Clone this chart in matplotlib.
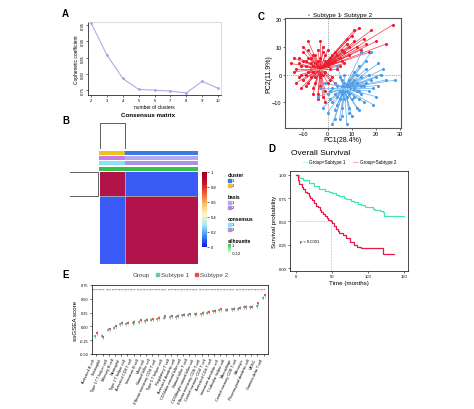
import numpy as np
import matplotlib
matplotlib.use("Agg")
import matplotlib.pyplot as plt
from matplotlib.colors import ListedColormap, LinearSegmentedColormap

W, H = 474, 410
fig = plt.figure(figsize=(W / 100, H / 100), dpi=100)
plt.rcParams['font.family'] = ['Liberation Sans', 'DejaVu Sans']

def ax_px(x0, y0, x1, y1):
    return fig.add_axes([x0 / W, 1 - y1 / H, (x1 - x0) / W, (y1 - y0) / H])

def small(ax, fs=3.5):
    ax.tick_params(labelsize=fs, length=1.5, width=0.4, pad=1)
    for s in ax.spines.values():
        s.set_linewidth(0.5)

# ---- data ----
n_clusters = [2, 3, 4, 5, 6, 7, 8, 9, 10]
cophenetic = [0.956, 0.858, 0.786, 0.752, 0.750, 0.747, 0.741, 0.777, 0.756]

cluster_sizes = [26, 74]

pc_sub1_center = (-3, 2)
pc_sub1 = [(-15, 4), (-14, 1), (-12, 6), (-12, -1), (-11, 3), (-10, 8), (-10, -2), (-9, 5), (-9, 0),
           (-8, 9), (-8, -3), (-7, 6), (-7, 2), (-6, -5), (-6, 7), (-5, 4), (-5, -1), (-4, 9), (-4, -7),
           (-3, 6), (-3, -4), (-2, 8), (-2, 0), (-1, -6), (-1, 5), (0, 3), (0, 9), (1, -2), (1, 6), (2, 4),
           (3, 8), (4, 2), (5, 6), (6, 9), (8, 11), (10, 14), (12, 10), (13, 17), (15, 13), (18, 16),
           (20, 12), (24, 11), (27, 18), (9, 7), (7, 4), (-13, -3), (-11, -5), (-2, 10), (3, -3), (-8, 12),
           (-14, 6), (-13, 2), (-12, 4), (-11, 0), (-10, 5), (-9, 3), (-9, -4), (-8, 1), (-8, 6), (-7, -1),
           (-7, 4), (-6, 1), (-6, 3), (-5, 7), (-5, -3), (-4, 2), (-4, 5), (-3, -1), (-3, 0), (-2, 3),
           (-2, -8), (-1, 1), (-1, 7), (0, -3), (0, 5), (1, 2), (2, 7), (2, -1), (3, 5), (4, 7),
           (5, 3), (6, 5), (7, 8), (9, 10), (11, 12), (14, 9), (16, 11), (11, 16), (8, 13), (17, 8),
           (-4, -9), (-6, -7), (-1, -10), (-10, 10), (-3, 12)]
pc_sub2_center = (7, -5)
pc_sub2 = [(-4, -8), (-2, -12), (0, -14), (1, -6), (2, -10), (3, -3), (3, -16), (4, -8), (5, -1), (5, -16),
           (6, -12), (6, -4), (7, -9), (7, 0), (8, -18), (8, -6), (9, -2), (9, -12), (10, -15), (10, -5),
           (11, 1), (11, -8), (12, -3), (13, -6), (13, 3), (14, -1), (15, -10), (15, -4), (16, 2), (17, -6),
           (18, 8), (18, -2), (20, -8), (21, 4), (21, -4), (22, 0), (24, -2), (28, -2), (14, 8), (-1, -3),
           (2, -18), (12, -12), (19, -11), (4, 3), (16, 5),
           (2, -5), (3, -7), (4, -4), (4, -11), (5, -6), (5, -9), (6, -2), (6, -7), (7, -3), (7, -6),
           (8, -4), (8, -8), (9, -5), (9, -7), (10, -3), (10, -9), (11, -5), (11, -2), (12, -6), (12, 0),
           (13, -9), (14, -4), (14, -7), (16, -3), (17, 0), (19, -5), (20, -1), (23, 2), (1, -9), (0, -7),
           (-3, -5), (6, -15), (9, -14), (3, -13), (13, -13)]

os1_t = [0, 4, 10, 18, 25, 32, 40, 46, 50, 56, 60, 66, 70, 76, 80, 86, 90, 96, 100, 106, 110, 116, 120, 122, 150]
os1_s = [1.0, 0.97, 0.94, 0.91, 0.88, 0.85, 0.83, 0.81, 0.80, 0.78, 0.77, 0.75, 0.74, 0.72, 0.71, 0.69, 0.68,
         0.66, 0.65, 0.63, 0.62, 0.61, 0.60, 0.56, 0.56]
os2_t = [0, 3, 5, 8, 10, 13, 15, 18, 20, 23, 25, 28, 30, 33, 35, 38, 40, 43, 45, 48, 50, 53, 55, 58, 60,
         65, 70, 75, 80, 85, 90, 120, 121, 135]
os2_s = [1.0, 0.94, 0.90, 0.87, 0.85, 0.82, 0.80, 0.77, 0.75, 0.73, 0.70, 0.67, 0.65, 0.62, 0.60, 0.58,
         0.56, 0.54, 0.52, 0.50, 0.48, 0.45, 0.42, 0.40, 0.38, 0.35, 0.32, 0.28, 0.25, 0.23, 0.22, 0.22,
         0.15, 0.15]

cells = ["Activated B cell", "Eosinophil", "Type 17 T helper cell", "Memory B cell", "Neutrophil",
         "Type 2 T helper cell", "Activated CD8 T cell", "Immature B cell", "Mast cell",
         "Natural killer cell", "Effector memeory CD4 T cell", "Type 1 T helper cell",
         "Regulatory T cell", "Activated dendritic cell", "CD56dim natural killer cell",
         "Natural killer T cell", "CD56bright natural killer cell", "Effector memeory CD8 T cell",
         "Central memory CD4 T cell", "Activated CD4 T cell", "Immature dendritic cell",
         "T follicular helper cell", "Macrophage", "Central memory CD8 T cell", "Monocyte",
         "Plasmacytoid dendritic cell", "MDSC", "Gamma delta T cell"]
score_sub1 = [-0.18, -0.17, -0.06, -0.02, 0.04, 0.05, 0.06, 0.08, 0.10, 0.12, 0.13, 0.16, 0.17, 0.17,
              0.20, 0.21, 0.22, 0.22, 0.25, 0.27, 0.29, 0.30, 0.31, 0.32, 0.35, 0.35, 0.37, 0.52]
score_sub2 = [-0.12, -0.20, -0.05, 0.00, 0.06, 0.07, 0.08, 0.11, 0.12, 0.13, 0.15, 0.18, 0.18, 0.19,
              0.21, 0.22, 0.23, 0.24, 0.26, 0.28, 0.31, 0.30, 0.32, 0.34, 0.35, 0.36, 0.42, 0.56]

# ---- A ----
ax = ax_px(88, 23, 221, 96)
ax.plot(n_clusters, cophenetic, color="#b49ae6", lw=0.7, marker="o", ms=1)
ax.set_xticks(n_clusters)
ax.set_yticks([0.75, 0.80, 0.85, 0.90, 0.95])
ax.set_ylim(0.735, 0.96)
ax.set_xlim(1.8, 10.2)
ax.set_xlabel("number of clusters", fontsize=3.5, labelpad=1)
ax.set_ylabel("Cophenetic coefficient", fontsize=3.5, labelpad=1)
for t in ax.get_yticklabels():
    t.set_rotation(90); t.set_va("center")
ax.spines["top"].set_color("#cccccc"); ax.spines["right"].set_color("#cccccc")
small(ax, 3)
fig.text(62 / W, 1 - 17 / H, "A", fontsize=7, weight="bold")

# ---- B ----
n = sum(cluster_sizes)
lab = np.repeat(np.arange(len(cluster_sizes)), cluster_sizes)
mat = (lab[:, None] == lab[None, :]).astype(float)
cm = LinearSegmentedColormap.from_list("cc", ["#0a1fe6", "#3d8cf0", "#a8e8f5", "#fff8c0",
                                              "#fbbd60", "#f05a30", "#c0102a", "#990020"])
hx0, hx1, hy0, hy1 = 100, 197, 173, 265
ax = ax_px(hx0, hy0, hx1, hy1)
ax.imshow(mat, cmap=ListedColormap(["#3a5af5", "#b2134b"]), aspect="auto", interpolation="nearest")
ax.axhline(cluster_sizes[0] - 0.5, color="#b0b0b0", lw=0.6)
ax.axvline(cluster_sizes[0] - 0.5, color="#b0b0b0", lw=0.6)
ax.set_xticks([]); ax.set_yticks([])
for s in ax.spines.values():
    s.set_visible(False)
ann_rows = [["#f2c21b", "#3a7be0"], ["#c77de8", "#b2aaf2"], ["#8ee2f2", "#b08fe8"], ["#34c24a", "#34c24a"]]
for i, cols in enumerate(ann_rows):
    a = ax_px(hx0 - 1, 152 + i * 5.2, hx1, 152 + i * 5.2 + 4)
    a.imshow(lab[None, :], cmap=ListedColormap(cols), aspect="auto", vmin=0, vmax=1)
    a.axis("off")
# dendrograms
d = ax_px(hx0, 123, hx1, 150)
d.plot([0, 0, cluster_sizes[0], cluster_sizes[0]], [0, 1, 1, 0], color="#444444", lw=0.6)
d.set_xlim(0, n); d.set_ylim(0, 1.05); d.axis("off")
d = ax_px(70, hy0, hx0 - 1, hy1)
d.plot([0, 1, 1, 0], [0, 0, cluster_sizes[0], cluster_sizes[0]], color="#444444", lw=0.6)
d.set_ylim(n, 0); d.set_xlim(0, 1.05); d.axis("off")
fig.text(148 / W, 1 - 117 / H, "Consensus matrix", fontsize=4.5, weight="bold", ha="center")
fig.text(62 / W, 1 - 124 / H, "B", fontsize=7, weight="bold")
cax = ax_px(202, 173, 207, 248)
cax.imshow(np.linspace(1, 0, 100)[:, None], cmap=cm, aspect="auto", extent=[0, 1, 0, 1])
cax.set_xticks([]); cax.yaxis.tick_right()
cax.set_yticks([0, 0.2, 0.4, 0.6, 0.8, 1]); cax.set_yticklabels(["0", "0.2", "0.4", "0.6", "0.8", "1"])
small(cax, 3)
for s in cax.spines.values():
    s.set_visible(False)
leg = [("cluster", ["#3a7be0", "#f2c21b"]), ("basis", ["#b2aaf2", "#c77de8"]), ("consensus", ["#8ee2f2", "#b08fe8"])]
y = 176
for name, cols in leg:
    fig.text(228 / W, 1 - y / H, name, fontsize=3.5, weight="bold", va="center")
    for k, c in enumerate(cols):
        yy = y + 5 + k * 5
        fig.patches.append(plt.Rectangle((228 / W, 1 - (yy + 1.5) / H), 3 / W, 3 / H, color=c, transform=fig.transFigure))
        fig.text(232 / W, 1 - yy / H, str(k + 1), fontsize=3, va="center")
    y += 22
fig.text(228 / W, 1 - y / H, "silhouette", fontsize=3.5, weight="bold", va="center")
sx = ax_px(228, y + 3, 231, y + 13)
sx.imshow(np.linspace(1, 0, 50)[:, None], cmap=LinearSegmentedColormap.from_list("g", ["white", "#1fc23a"]), aspect="auto")
sx.axis("off")
fig.text(232 / W, 1 - (y + 4) / H, "1", fontsize=3, va="center")
fig.text(232 / W, 1 - (y + 12) / H, "-0.12", fontsize=3, va="center")

# ---- C ----
ax = ax_px(285, 19, 401, 129)
for pts, cen, col in [(pc_sub1, pc_sub1_center, "#ee1c2e"), (pc_sub2, pc_sub2_center, "#4a9ee8")]:
    for p in pts:
        ax.plot([cen[0], p[0]], [cen[1], p[1]], color=col, lw=0.5, alpha=0.85)
    xs, ys = zip(*pts)
    ax.scatter(xs, ys, s=1.5, color=col, zorder=3)
ax.text(*pc_sub1_center, "Subtype 1", fontsize=3, color="white", ha="center", va="center", zorder=4)
ax.text(*pc_sub2_center, "Subtype 2", fontsize=3, color="white", ha="center", va="center", zorder=4)
ax.axhline(0, color="#555555", lw=0.5, ls=":")
ax.axvline(0, color="#555555", lw=0.5, ls=":")
ax.set_xlim(-17.6, 30.4); ax.set_ylim(-19.4, 20.5)
ax.set_xticks([-10, 0, 10, 20, 30]); ax.set_yticks([-10, 0, 10, 20])
ax.set_xlabel("PC1(28.4%)", fontsize=5, labelpad=0)
ax.set_ylabel("PC2(11.9%)", fontsize=5, labelpad=0)
small(ax, 4)
for s in ax.spines.values():
    s.set_linewidth(0.8); s.set_color("#555555")
fig.text(308 / W, 1 - 15 / H, "•", color="#ee1c2e", fontsize=4, va="center")
fig.text(313 / W, 1 - 15 / H, "Subtype 1", fontsize=4.5, va="center")
fig.text(340 / W, 1 - 15 / H, "•", color="#4a9ee8", fontsize=4, va="center")
fig.text(344 / W, 1 - 15 / H, "Subtype 2", fontsize=4.5, va="center")
fig.text(258 / W, 1 - 20 / H, "C", fontsize=7, weight="bold")

# ---- D ----
ax = ax_px(290, 172, 408, 272)
ax.step(os1_t, os1_s, where="post", color="#3de8b0", lw=0.9)
ax.step(os2_t, os2_s, where="post", color="#e8194a", lw=0.9)
ax.plot([0, 48, 48], [0.5, 0.5, -0.03], color="#777777", lw=0.4, ls=":")
ax.text(6, 0.28, "p < 0.0001", fontsize=3)
ax.set_xlim(-8, 155); ax.set_ylim(-0.03, 1.04)
ax.set_xticks([0, 50, 100, 150]); ax.set_yticks([0, 0.25, 0.5, 0.75, 1.0])
ax.set_yticklabels(["0.00", "0.25", "0.50", "0.75", "1.00"])
ax.set_xlabel("Time (months)", fontsize=4.5, labelpad=1)
ax.set_ylabel("Survival probability", fontsize=4.5, labelpad=1)
small(ax, 3)
fig.text(291 / W, 1 - 155 / H, "Overall Survival", fontsize=6)
fig.text(303 / W, 1 - 163 / H, "—", color="#3de8b0", fontsize=4, va="center")
fig.text(309 / W, 1 - 163 / H, "Group=Subtype 1", fontsize=3.3, va="center")
fig.text(353 / W, 1 - 163 / H, "—", color="#e8194a", fontsize=4, va="center")
fig.text(360 / W, 1 - 163 / H, "Group=Subtype 2", fontsize=3.3, va="center")
fig.text(268 / W, 1 - 152 / H, "D", fontsize=7, weight="bold")

# ---- E ----
ax = ax_px(92, 286, 268, 355)
x = np.arange(len(cells))
ax.scatter(x - 0.15, score_sub1, s=0.8, marker="_", color="#5fcf9a")
ax.scatter(x + 0.15, score_sub2, s=0.8, marker="_", color="#e8504a")
for i in x:
    ax.plot([i - 0.15, i - 0.15], [score_sub1[i] - 0.03, score_sub1[i] + 0.03], color="#888888", lw=0.4)
    ax.plot([i + 0.15, i + 0.15], [score_sub2[i] - 0.03, score_sub2[i] + 0.03], color="#888888", lw=0.4)
    ax.text(i, 0.66, "****", fontsize=3, ha="center", va="center", color="#444444")
ax.set_xlim(-0.7, len(cells) - 0.3); ax.set_ylim(-0.5, 0.75)
ax.set_yticks([-0.5, -0.25, 0, 0.25, 0.5, 0.75])
ax.set_yticklabels(["-0.50", "-0.25", "0.00", "0.25", "0.50", "0.75"])
ax.set_xticks(x)
ax.set_xticklabels(cells, rotation=65, ha="right", fontsize=2.8)
ax.set_ylabel("ssGSEA score", fontsize=4.5, labelpad=1)
small(ax, 2.8)
fig.text(133 / W, 1 - 275 / H, "Group", fontsize=4.5, va="center", color="#444444")
fig.patches.append(plt.Rectangle((156 / W, 1 - 277 / H), 3 / W, 3 / H, color="#5fcf9a", transform=fig.transFigure))
fig.text(161 / W, 1 - 275 / H, "Subtype 1", fontsize=4.5, va="center", color="#444444")
fig.patches.append(plt.Rectangle((195 / W, 1 - 277 / H), 3 / W, 3 / H, color="#e8504a", transform=fig.transFigure))
fig.text(200 / W, 1 - 275 / H, "Subtype 2", fontsize=4.5, va="center", color="#444444")
fig.text(62 / W, 1 - 278 / H, "E", fontsize=7, weight="bold")

fig.savefig("out.png", dpi=100)
